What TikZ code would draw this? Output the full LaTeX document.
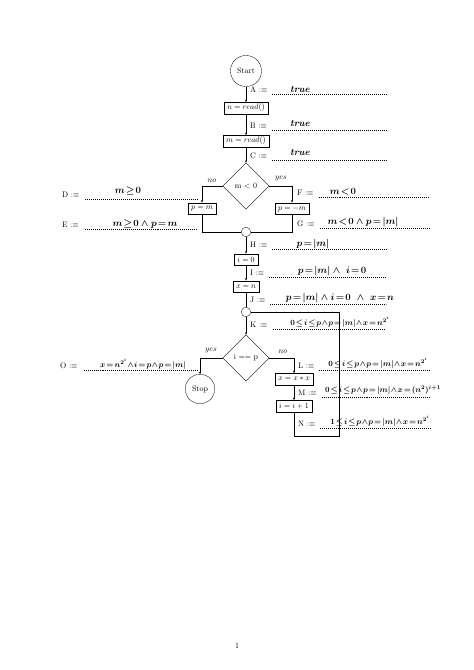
\documentclass[tikz,border=0pt]{standalone}
\usepackage{amsmath,amssymb}
\usetikzlibrary{shapes.geometric,arrows.meta}
\begin{document}
\begin{tikzpicture}[x=1.2553pt,y=-1.2553pt,
  box/.style={draw, inner xsep=4pt, inner ysep=1.5pt, minimum height=14.5pt},
  term/.style={draw, circle, minimum size=39pt, inner sep=0pt},
  junc/.style={draw, circle, minimum size=12pt, inner sep=0pt, fill=white},
  cond/.style={draw, diamond, minimum width=58pt, minimum height=58pt, inner sep=0pt},
  lbl/.style={anchor=west, inner sep=0pt},
  dots/.style={dotted, line width=0.5pt},
  hand/.style={inner sep=0pt, font=\large\boldmath\bfseries},
  flow/.style={-{Stealth[length=3pt,width=2.5pt]}}]
\useasboundingbox (0,0) rectangle (474,670);

% main chain
\node[term] (start) at (246,71) {Start};
\node[box] (nread) at (246,108) {$n = read()$};
\node[box] (mread) at (246,141) {$m = read()$};
\node[cond] (d1) at (246,186) {m $<$ 0};
\node[box] (pm) at (202,208.5) {$p = m$};
\node[box] (pmm) at (292,208.5) {$p = -m$};
\node[junc] (j1) at (246,232) {};
\node[box] (i0) at (246,259.5) {$i = 0$};
\node[box] (xn) at (246,286.5) {$x = n$};
\node[junc] (j2) at (246,312) {};
\node[cond] (d2) at (246,358) {i == p};
\node[term, minimum size=37pt] (stop) at (200,389) {Stop};
\node[box] (xx) at (294,379) {$x = x * x$};
\node[box] (ii) at (294,406) {$i = i + 1$};

\coordinate (l1) at (202,186);
\coordinate (r1) at (292,186);
\coordinate (l1b) at (202,232);
\coordinate (r1b) at (292,232);
\coordinate (l2) at (200,358);
\coordinate (r2) at (294,358);
\coordinate (b1) at (294,436);
\coordinate (b2) at (339,436);
\coordinate (b3) at (339,312);

\draw[flow] (start) -- (nread);
\draw[flow] (nread) -- (mread);
\draw[flow] (mread) -- (d1);
\draw[flow] (d1.west) -- (l1) -- (pm);
\draw[flow] (d1.east) -- (r1) -- (pmm);
\draw (pm) -- (l1b) -- (j1);
\draw (pmm) -- (r1b) -- (j1);
\draw[flow] (j1) -- (i0);
\draw[flow] (i0) -- (xn);
\draw (xn) -- (j2);
\draw[flow] (j2) -- (d2);
\draw[flow] (d2.west) -- (l2) -- (stop);
\draw[flow] (d2.east) -- (r2) -- (xx);
\draw[flow] (xx) -- (ii);
\draw (ii) -- (b1) -- (b2) -- (b3) -- (j2);

% branch labels
\node (no1) at (212,181) {$no$};
\node (yes1) at (281,179) {$yes$};
\node (yes2) at (211,351) {$yes$};
\node (no2) at (283,352) {$no$};

% assertion labels
\node[lbl] (A) at (250,90) {A $:\equiv$};
\node[lbl] (B) at (250,126) {B $:\equiv$};
\node[lbl] (C) at (250,156) {C $:\equiv$};
\node[lbl] (D) at (62,195) {D $:\equiv$};
\node[lbl] (E) at (62,225) {E $:\equiv$};
\node[lbl] (F) at (297,193) {F $:\equiv$};
\node[lbl] (G) at (297,224) {G $:\equiv$};
\node[lbl] (H) at (250,245) {H $:\equiv$};
\node[lbl] (I) at (250,273) {I $:\equiv$};
\node[lbl] (J) at (250,300) {J $:\equiv$};
\node[lbl] (K) at (250,325) {K $:\equiv$};
\node[lbl] (L) at (298,366) {L $:\equiv$};
\node[lbl] (M) at (298,393) {M $:\equiv$};
\node[lbl] (N) at (298,424) {N $:\equiv$};
\node[lbl] (O) at (60,366) {O $:\equiv$};

% dotted lines
\foreach \n/\y in {A/94,B/130,C/160,H/249,I/277,J/304,K/329}{
  \coordinate (\n e) at (386,\y);
  \draw[dots] (\n.east |- \n e) ++(5,0) -- (\n e);
}
\foreach \n/\y in {D/199,E/229,O/370}{
  \coordinate (\n e) at (198,\y);
  \draw[dots] (\n.east |- \n e) ++(6,0) -- (\n e);
}
\foreach \n/\y in {F/197,G/228,L/370,M/397,N/428}{
  \coordinate (\n e) at (430,\y);
  \draw[dots] (\n.east |- \n e) ++(5,0) -- (\n e);
}

% handwritten assertions
\node[hand] (hA) at (300,89) {\textit{true}};
\node[hand] (hB) at (300,123) {\textit{true}};
\node[hand] (hC) at (300,152) {\textit{true}};
\node[hand] (hD) at (128,191) {$m\!\geq\!0$};
\node[hand] (hE) at (145,224) {$m\!\geq\!0 \wedge p\!=\!m$};
\node[hand] (hF) at (343,192) {$m\!<\!0$};
\node[hand] (hG) at (363,222) {$m\!<\!0\wedge p\!=\!|m|$};
\node[hand] (hH) at (313,244) {$p\!=\!|m|$};
\node[hand] (hI) at (332,271) {$p\!=\!|m|\wedge\ i\!=\!0$};
\node[hand] (hJ) at (340,298) {$p\!=\!|m|\wedge i\!=\!0\ \wedge\ x\!=\!n$};
\node[hand, font=\normalsize\boldmath] (hK) at (340,322) {$0\!\leq\! i\!\leq\! p\!\wedge\! p\!=\!|m|\!\wedge\! x\!=\!n^{2^i}$};
\node[hand, font=\normalsize\boldmath] (hL) at (378,363) {$0\!\leq\! i\!\leq\! p\!\wedge\! p\!=\!|m|\!\wedge\! x\!=\!n^{2^i}$};
\node[hand, font=\normalsize\boldmath] (hM) at (383,390) {$0\!\leq\! i\!\leq\! p\!\wedge\! p\!=\!|m|\!\wedge\! x\!=\!(n^{2})^{i+1}$};
\node[hand, font=\normalsize\boldmath] (hN) at (380,421) {$1\!\leq\! i\!\leq\! p\!\wedge\! p\!=\!|m|\!\wedge\! x\!=\!n^{2^i}$};
\node[hand, font=\normalsize\boldmath] (hO) at (143,364) {$x\!=\!n^{2^i}\!\wedge\! i\!=\!p\!\wedge\! p\!=\!|m|$};

% page number
\node (page) at (237,646) {1};
\end{tikzpicture}
\end{document}
